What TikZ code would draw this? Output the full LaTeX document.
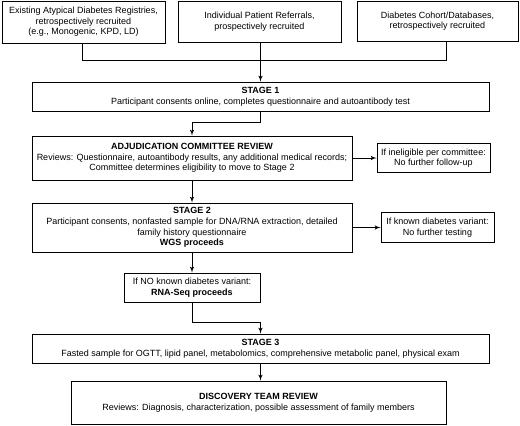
\documentclass[tikz,border=0pt]{standalone}
\usepackage{fontspec}
\setmainfont{Liberation Sans}
\usetikzlibrary{arrows,calc,positioning}

\begin{document}
\begin{tikzpicture}[x=1pt,y=-1pt,auto,>=latex',line width=1pt]
	\tikzstyle{block} = [draw, rectangle, align=center, inner sep=0pt, font=\fontsize{9}{10.6}\selectfont]
	\useasboundingbox (0,0) rectangle (520,426);
	
	\node[block, minimum width=163pt, minimum height=42pt] (reg) at (83.5,22) {Existing Atypical Diabetes Registries,\\retrospectively recruited\\(e.g., Monogenic, KPD, LD)};
	\node[block, minimum width=163pt, minimum height=41pt] (ref) at (259.5,21.5) {Individual Patient Referrals,\\prospectively recruited};
	\node[block, minimum width=161pt, minimum height=40pt] (coh) at (437.5,21) {Diabetes Cohort/Databases,\\retrospectively recruited};
	
	\coordinate (busl) at (82,60);
	\coordinate (busr) at (446,60);
	
	\node[block, minimum width=457pt, minimum height=29pt] (stage1) at (260.5,96.5) {\textbf{STAGE 1}\\Participant consents online, completes questionnaire and autoantibody test};
	
	\node[block, minimum width=320pt, minimum height=44pt] (adj) at (192,158) {\textbf{ADJUDICATION COMMITTEE REVIEW}\\Reviews: Questionnaire, autoantibody results, any additional medical records;\\Committee determines eligibility to move to Stage 2};
	\node[block, minimum width=113pt, minimum height=29pt, right = 24pt of adj] (inel) {If ineligible per committee:\\No further follow-up};
	
	\node[block, minimum width=320pt, minimum height=49pt] (stage2) at (192,227.5) {\textbf{STAGE 2}\\Participant consents, nonfasted sample for DNA/RNA extraction, detailed\\family history questionnaire\\\textbf{WGS proceeds}};
	\node[block, minimum width=113pt, minimum height=30pt, right = 28pt of stage2] (var) {If known diabetes variant:\\No further testing};
	
	\node[block, minimum width=136pt, minimum height=29pt, below = 20pt of stage2] (rna) {If NO known diabetes variant:\\\textbf{RNA-Seq proceeds}};
	
	\node[block, minimum width=457pt, minimum height=29pt] (stage3) at (260.5,348.5) {\textbf{STAGE 3}\\Fasted sample for OGTT, lipid panel, metabolomics, comprehensive metabolic panel, physical exam};
	
	\node[block, minimum width=375pt, minimum height=43pt] (disc) at (258.5,402.5) {\textbf{DISCOVERY TEAM REVIEW}\\Reviews: Diagnosis, characterization, possible assessment of family members};
	
	\draw (reg.south -| busl) -- (busl) -- (busr) -- (coh.south -| busr);
	\draw [->] (ref.south -| stage1.north) -- (stage1.north);
	\draw [->] (stage1.south) -- ++(0,11) -| (adj.north);
	\draw [->] (adj) -- (inel);
	\draw [->] (adj.south) -- (stage2.north);
	\draw [->] (stage2) -- (var);
	\draw [->] (stage2.south) -- (rna.north);
	\draw [->] (rna.south) -- ++(0,20) -| (stage3.north);
	\draw [->] (stage3.south) -- (stage3.south |- disc.north);
	
\end{tikzpicture}
\end{document}
